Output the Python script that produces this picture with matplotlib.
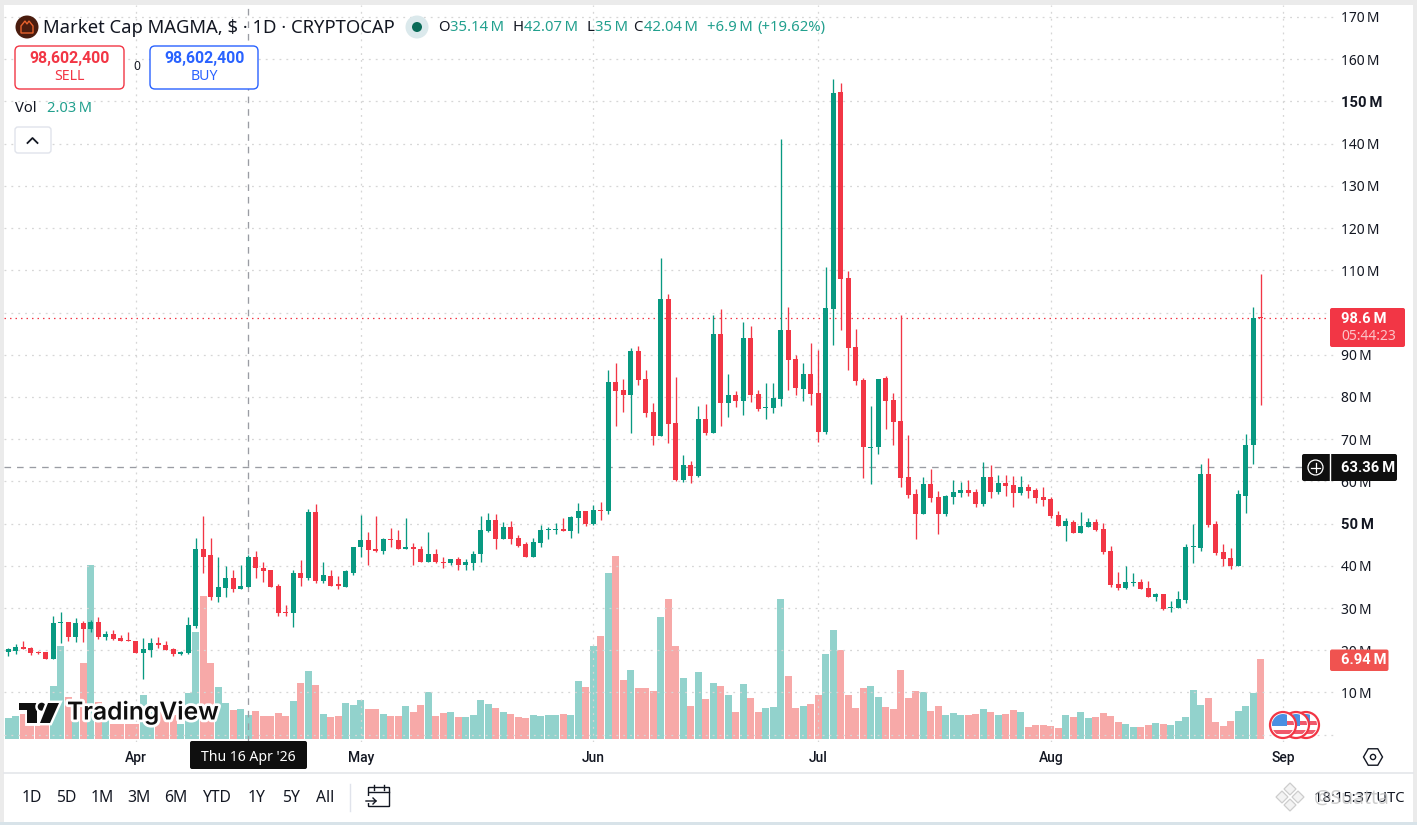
import matplotlib
matplotlib.use('Agg')
import numpy as np
import pandas as pd
import matplotlib.pyplot as plt
import matplotlib.patches as mpatches
import matplotlib.patheffects as pe
from matplotlib.ticker import FixedLocator, FuncFormatter

plt.rcParams['font.family'] = ['Noto Sans', 'DejaVu Sans']

opens = [19.5, 19.8, 20.8, 20.6, 19.6, 19.6, 17.9, 26.5, 26.7, 23.2,
         26.5, 25.1, 26.7, 23.2, 23.9, 22.9, 22.5, 22.2, 19.4, 20.1,
         21.7, 21.3, 20.3, 19.1, 19.4, 25.8, 44.1, 42.5, 32.5, 34.8,
         37.0, 34.6, 35.1, 42.2, 39.6, 38.9, 35.3, 29.1, 28.9, 38.2,
         37.2, 52.7, 36.5, 37.7, 35.6, 35.1, 38.4, 44.4, 46.0, 43.9,
         43.4, 46.3, 46.0, 44.1, 44.4, 44.1, 40.8, 42.9, 41.0, 40.6,
         41.5, 40.1, 40.6, 42.7, 48.2, 50.8, 46.3, 49.1, 46.5, 45.1,
         42.2, 45.3, 48.4, 48.4, 48.7, 48.2, 51.3, 52.9, 49.8, 53.2,
         52.9, 83.6, 81.7, 80.5, 90.9, 84.3, 76.4, 70.8, 103.2, 73.8,
         60.3, 63.9, 61.3, 74.8, 71.5, 94.9, 78.6, 80.5, 79.1, 94.0,
         80.7, 77.4, 77.4, 79.5, 95.9, 89.0, 81.9, 85.5, 80.9, 71.7,
         100.9, 152.3, 108.2, 91.9, 84.0, 67.9, 68.2, 84.5, 79.3, 74.3,
         61.0, 57.0, 52.3, 59.4, 56.3, 52.3, 56.3, 57.2, 57.9, 57.5,
         54.6, 61.0, 57.5, 59.6, 59.1, 57.2, 58.7, 57.9, 56.3, 55.8,
         52.0, 49.4, 50.4, 47.7, 49.2, 50.4, 48.7, 43.5, 35.7, 34.7,
         35.9, 36.1, 34.7, 32.6, 33.3, 30.0, 30.0, 31.9, 44.5, 44.3,
         61.8, 50.0, 43.3, 41.9, 40.0, 56.6, 68.5, 98.8]
closes = [20.2, 20.8, 20.3, 19.4, 19.4, 17.9, 26.5, 26.7, 23.2, 26.5,
          25.1, 26.7, 23.2, 23.9, 22.7, 22.2, 22.2, 19.4, 20.3, 21.7,
          21.3, 20.1, 19.1, 19.6, 26.0, 44.1, 42.2, 32.5, 35.1, 37.0,
          34.6, 35.3, 42.2, 39.4, 38.7, 35.1, 28.9, 28.9, 38.2, 37.2,
          52.7, 36.5, 37.9, 35.3, 35.3, 38.7, 44.4, 46.0, 43.7, 43.4,
          46.3, 46.0, 43.9, 44.4, 44.1, 40.8, 42.9, 40.8, 40.6, 41.5,
          40.1, 40.8, 42.9, 48.4, 50.8, 46.3, 49.1, 46.3, 44.8, 42.2,
          45.6, 48.4, 48.7, 48.7, 48.2, 51.5, 52.9, 49.8, 53.2, 52.9,
          83.6, 81.4, 80.5, 90.9, 84.0, 76.2, 70.8, 103.2, 73.6, 60.3,
          63.9, 61.3, 74.8, 71.5, 94.9, 78.6, 80.5, 79.1, 94.0, 80.5,
          77.2, 77.6, 79.8, 95.9, 88.8, 82.1, 85.5, 80.7, 71.7, 101.1,
          152.1, 108.0, 91.6, 83.8, 68.2, 68.2, 84.3, 79.1, 74.1, 60.8,
          56.8, 52.3, 59.4, 56.1, 52.3, 56.6, 57.5, 57.9, 57.2, 54.6,
          61.0, 57.5, 59.6, 58.9, 57.2, 58.7, 57.7, 56.0, 55.6, 51.8,
          49.4, 50.6, 47.7, 49.4, 50.4, 48.5, 43.2, 35.4, 34.7, 36.1,
          36.1, 34.5, 32.6, 33.3, 29.7, 30.2, 32.1, 44.4, 44.8, 61.8,
          49.7, 43.1, 41.7, 40.0, 56.9, 68.7, 98.8, 98.6]
highs = [20.6, 21.5, 22.2, 20.8, 19.8, 19.6, 28.2, 29.1, 26.7, 27.7,
         27.0, 27.2, 27.9, 24.6, 24.8, 23.7, 24.4, 22.2, 22.9, 22.9,
         23.2, 22.2, 20.6, 19.8, 27.9, 46.7, 51.7, 46.5, 42.0, 40.0,
         38.9, 40.3, 42.5, 43.4, 40.8, 38.9, 35.6, 30.8, 39.1, 41.3,
         53.4, 54.6, 40.8, 39.1, 37.7, 39.1, 44.4, 52.0, 47.9, 51.7,
         46.7, 48.9, 48.4, 51.3, 45.3, 44.6, 47.9, 44.1, 42.2, 41.7,
         42.0, 41.7, 43.4, 51.7, 52.5, 52.2, 50.3, 50.6, 47.2, 45.6,
         46.7, 49.6, 49.1, 50.1, 51.3, 51.7, 54.8, 52.9, 54.4, 55.1,
         86.4, 88.1, 84.3, 91.6, 92.1, 86.4, 78.6, 113.0, 104.4, 84.7,
         66.2, 64.8, 77.9, 78.3, 99.4, 100.9, 85.5, 81.4, 97.8, 96.8,
         81.7, 83.3, 83.3, 141.0, 101.3, 90.0, 88.1, 92.8, 91.1, 110.8,
         155.4, 154.4, 109.9, 96.1, 84.5, 77.9, 84.3, 85.0, 81.0, 99.4,
         71.0, 58.2, 61.0, 63.0, 57.7, 56.8, 60.3, 59.8, 60.3, 58.2,
         64.6, 63.9, 61.5, 61.5, 61.3, 61.3, 59.4, 58.4, 58.7, 56.3,
         53.0, 51.3, 50.8, 52.7, 51.3, 51.1, 50.1, 44.7, 38.5, 39.9,
         38.3, 36.8, 36.4, 33.5, 33.3, 31.6, 34.0, 45.1, 50.0, 64.0,
         65.6, 50.7, 45.2, 44.3, 58.0, 71.3, 101.2, 109.2]
lows = [18.7, 19.2, 20.3, 18.9, 19.1, 17.9, 17.9, 21.7, 22.2, 22.0,
        22.0, 24.4, 22.7, 22.5, 22.5, 22.2, 22.2, 19.4, 13.2, 18.4,
        20.6, 20.1, 18.7, 18.9, 19.1, 25.3, 38.4, 32.0, 31.5, 32.5,
        33.9, 34.6, 35.1, 37.0, 36.2, 35.1, 28.2, 28.2, 25.6, 35.3,
        36.7, 36.0, 36.0, 35.3, 34.6, 35.1, 37.9, 42.2, 40.1, 43.2,
        42.9, 44.4, 43.9, 43.9, 40.1, 40.8, 40.8, 40.6, 39.6, 40.1,
        39.1, 39.1, 39.1, 40.8, 47.9, 44.1, 46.3, 45.1, 44.4, 42.2,
        42.2, 44.4, 46.3, 47.5, 48.2, 46.5, 47.7, 49.4, 49.6, 50.8,
        52.2, 73.1, 76.4, 71.5, 82.8, 75.3, 68.6, 70.8, 69.1, 60.1,
        59.8, 59.6, 61.0, 71.0, 71.5, 73.1, 75.3, 77.6, 75.7, 78.8,
        76.7, 74.8, 76.2, 77.9, 81.7, 80.5, 79.1, 78.1, 69.3, 71.2,
        92.3, 95.9, 86.4, 82.9, 60.8, 59.4, 66.5, 72.4, 68.6, 58.7,
        56.1, 46.4, 52.3, 55.1, 47.6, 51.8, 54.6, 56.3, 56.5, 53.9,
        54.2, 56.0, 57.0, 56.5, 53.9, 56.8, 56.0, 54.9, 54.2, 51.3,
        49.4, 45.8, 47.7, 47.7, 49.2, 48.2, 42.8, 34.9, 34.2, 34.5,
        35.2, 34.5, 32.6, 31.6, 29.5, 29.0, 30.0, 31.1, 40.7, 43.6,
        49.3, 42.6, 40.0, 39.3, 40.0, 52.6, 64.0, 78.2]
volumes = [1.82, 1.99, 2.17, 1.30, 1.30, 1.30, 4.60, 8.06, 3.64, 3.38,
           6.59, 15.09, 3.20, 2.00, 1.30, 1.30, 1.30, 1.30, 3.80, 3.00,
           2.50, 2.00, 2.10, 1.30, 4.00, 9.30, 12.40, 6.59, 4.50, 3.10,
           2.50, 2.60, 2.08, 2.43, 2.00, 2.00, 2.25, 2.00, 3.30, 4.86,
           5.90, 4.68, 2.17, 1.90, 2.00, 3.12, 2.95, 3.38, 2.60, 2.60,
           2.17, 2.00, 2.00, 2.86, 2.34, 2.95, 4.08, 2.00, 2.25, 2.34,
           1.90, 1.90, 2.08, 3.38, 3.03, 2.69, 2.34, 2.17, 1.90, 1.82,
           2.08, 2.00, 2.08, 2.08, 2.17, 2.08, 5.03, 4.50, 8.06, 8.93,
           14.39, 15.87, 5.12, 5.98, 4.42, 4.42, 4.16, 10.58, 12.14, 8.06,
           5.29, 2.86, 5.81, 3.47, 4.86, 4.60, 3.82, 2.34, 4.77, 3.55,
           2.34, 2.69, 2.77, 12.14, 5.46, 2.69, 2.86, 3.03, 3.82, 7.37,
           9.45, 7.72, 3.82, 2.69, 4.42, 4.60, 3.64, 2.77, 2.58, 5.97,
           3.56, 4.19, 4.10, 2.41, 2.85, 2.05, 2.23, 2.05, 2.05, 2.14,
           2.58, 2.32, 2.05, 2.14, 2.49, 2.32, 1.07, 1.25, 1.25, 1.16,
           0.98, 2.05, 1.87, 2.32, 1.78, 1.87, 2.23, 1.96, 1.51, 1.34,
           1.07, 1.07, 1.25, 1.43, 1.34, 1.25, 1.60, 1.87, 4.28, 2.94,
           3.56, 1.51, 1.16, 1.60, 2.41, 2.85, 4.01, 6.94]

dates = pd.date_range('2026-03-15', periods=len(opens))
month_labels = ['Apr', 'May', 'Jun', 'Jul', 'Aug', 'Sep']
month_dates = pd.to_datetime(['2026-04-01', '2026-05-01', '2026-06-01',
                              '2026-07-01', '2026-08-01', '2026-09-01'])
price_ticks = list(range(10, 180, 10))
bold_ticks = [50, 150]
range_buttons = ['1D', '5D', '1M', '3M', '6M', 'YTD', '1Y', '5Y', 'All']
button_x = [32, 66, 102, 139, 176, 217, 257, 291, 325]
last_price = 98.6
cross_price = 63.36
cross_date = pd.Timestamp('2026-04-16')

GREEN = '#089981'
RED = '#f23645'
VOL_GREEN = '#92d2cc'
VOL_RED = '#f7a9a8'
TEAL = '#22a08e'
INK = '#131722'
BOLD = ['Roboto', 'DejaVu Sans']
W, H = 1417, 825

fig = plt.figure(figsize=(W / 100, H / 100), dpi=100)
fig.patch.set_facecolor('#ebebeb')


def day_index(d):
    return (d - dates[0]).days


def full_axes(z):
    a = fig.add_axes([0, 0, 1, 1], zorder=z)
    a.set_xlim(0, W)
    a.set_ylim(H, 0)
    a.axis('off')
    return a


# --- panel background ---
bg = full_axes(0)
bg.add_patch(mpatches.Rectangle((4, 5), 1409, 817, fc='white', ec='none'))
bg.add_patch(mpatches.Rectangle((0, 822), W, 3, fc='#d8e3e9', ec='none'))
bg.plot([4, 1413], [773, 773], color='#e4e6ea', lw=1.2)

# --- volume + price axes share the plot area ---
rect = [4 / W, (H - 742) / H, 1334 / W, 737 / H]
vol = fig.add_axes(rect, zorder=1)
ax = fig.add_axes(rect, zorder=2)
for a in (vol, ax):
    a.patch.set_visible(False)
    for s in a.spines.values():
        s.set_visible(False)
    a.set_xlim(-0.573, 177.3)

x = np.arange(len(opens))
o, c, h, l, v = map(np.array, (opens, closes, highs, lows, volumes))
up = c >= o

# volume
vol.set_ylim(-3 / 11.53, 734 / 11.53)
vol.set_xticks([])
vol.set_yticks([])
dot_style = dict(color='#d6d6d6', lw=0.9, ls=(0, (1.5, 4)), zorder=1)
for t in [0] + price_ticks:
    ax.axhline(t, **dot_style)
for d in month_dates:
    ax.axvline(day_index(d), **dot_style)
vol.bar(x, v, width=0.88, color=[VOL_GREEN if u else VOL_RED for u in up],
        lw=0, zorder=2)

# price, dojis still get a visible one pixel body
ax.set_ylim((734.7 - 742) / 4.222, (734.7 - 5) / 4.222)
ax.vlines(x, l, h, colors=[GREEN if u else RED for u in up], lw=0.95, zorder=4)
ax.bar(x, np.maximum(np.abs(c - o), 0.28), bottom=np.minimum(o, c), width=0.68,
       color=[GREEN if u else RED for u in up], lw=0, zorder=5)

# crosshair and last price line
cross_style = dict(color='#9a9ca3', lw=0.95, ls=(0, (5, 4.5)), zorder=3)
ax.axhline(cross_price, **cross_style)
ax.axvline(day_index(cross_date), **cross_style)
ax.axhline(last_price, color=RED, lw=0.9, ls=(0, (1.2, 3.2)), zorder=3)

ax.yaxis.tick_right()
ax.yaxis.set_major_locator(FixedLocator(price_ticks))
ax.yaxis.set_major_formatter(FuncFormatter(lambda t, _: f'{t:.0f}\u2009M'))
ax.tick_params(axis='y', length=0, pad=2.2, labelsize=10, labelcolor=INK)
for t, tick in zip(price_ticks, ax.yaxis.get_major_ticks()):
    if t in bold_ticks:
        tick.label2.set_family(BOLD)
        tick.label2.set_fontweight('bold')
        tick.label2.set_fontsize(10.6)

ax.set_xticks([day_index(d) for d in month_dates], month_labels)
ax.tick_params(axis='x', length=0, pad=6.8, labelsize=10, labelcolor=INK)
for lab in ax.get_xticklabels():
    lab.set_fontweight('medium')
    lab.set_family(BOLD)

# --- chart furniture drawn in pixel coordinates ---
ui = full_axes(3)


def label(px, py, s, **kw):
    kw.setdefault('va', 'center')
    kw.setdefault('color', INK)
    return ui.text(px, py, s, **kw)


def box(x0, y0, x1, y1, fc='white', ec='none', r=2, lw=1.0):
    p = mpatches.FancyBboxPatch((x0 + r, y0 + r), x1 - x0 - 2 * r, y1 - y0 - 2 * r,
                                boxstyle=f'round,pad={r}', fc=fc, ec=ec, lw=lw)
    ui.add_patch(p)
    return p


# header
ui.add_patch(mpatches.Circle((27, 27), 11.5, fc='#4a1c0e', ec='none'))
ui.add_patch(mpatches.Polygon([(21, 33), (21, 26), (25, 21), (27, 24), (29, 21), (33, 26), (33, 33)],
                              closed=True, fc='none', ec='#e8622c', lw=1))
label(43, 28, 'Market Cap MAGMA, $ \u00b7 1D \u00b7 CRYPTOCAP', fontsize=13.3)
ui.add_patch(mpatches.Circle((417, 27), 11.5, fc='#dbe9ec', ec='none'))
ui.add_patch(mpatches.Circle((417, 27), 5, fc='#0a6b58', ec='none'))
for px, s, col in [(438, 'O', INK), (450, '35.14\u2009M', TEAL), (512, 'H', INK),
                   (524, '42.07\u2009M', TEAL), (586, 'L', INK), (595, '35\u2009M', TEAL),
                   (633, 'C', INK), (644, '42.04\u2009M', TEAL),
                   (707, '+6.9\u2009M', TEAL), (757, '(+19.62%)', TEAL)]:
    label(px, 27.5, s, fontsize=10.7, color=col)

# sell / buy
box(15, 46, 124, 89, ec=RED, r=5, lw=1)
label(69.5, 59, '98,602,400', fontsize=11.4, color=RED, ha='center', fontweight='bold', family=BOLD)
label(69.5, 76, 'SELL', fontsize=10.2, color=RED, ha='center')
label(137, 67, '0', fontsize=8.6, ha='center')
box(150, 46, 258, 89, ec='#2962ff', r=5, lw=1)
label(204.5, 59, '98,602,400', fontsize=11.4, color='#2962ff', ha='center', fontweight='bold', family=BOLD)
label(204.5, 76, 'BUY', fontsize=10.2, color='#2962ff', ha='center')

label(15, 108.5, 'Vol', fontsize=10.6)
label(47, 108.5, '2.03\u2009M', fontsize=10.6, color=TEAL)
box(15, 127, 51, 153, ec='#e0e3eb', r=3, lw=1)
ui.plot([27.5, 32.5, 37.5], [143, 138, 143], color=INK, lw=1.3)

# TradingView mark
halo = [pe.withStroke(linewidth=4, foreground='white')]
logo_shapes = [
    mpatches.Polygon([(19, 703), (37, 703), (37, 723), (27, 723), (27, 710), (19, 710)], closed=True),
    mpatches.Circle((41.7, 706.7), 4),
    mpatches.Polygon([(48, 703), (59, 703), (50, 723), (40, 723)], closed=True),
]
for p in logo_shapes:
    p.set(fc='#0f0f0f', ec='none', path_effects=[pe.withStroke(linewidth=3.5, foreground='white')])
    ui.add_patch(p)
label(67, 712, 'TradingView', fontsize=17.7, color='#0f0f0f', fontweight='semibold',
      family=['Inter', 'DejaVu Sans'], path_effects=halo)

# crosshair date
box(190, 741, 307, 769, fc='#0f0f0f', r=2)
label(248.5, 757.5, "Thu 16 Apr '26", fontsize=10.1, color='white', ha='center')

# price scale labels
box(1330, 308, 1405, 347, fc=RED, r=2)
label(1341, 319, '98.6\u2009M', fontsize=10.6, color='white', fontweight='bold', family=BOLD)
label(1341, 337, '05:44:23', fontsize=10, color='#fbc4c9')
box(1330, 649.5, 1388.5, 671, fc='#f05350', r=2)
label(1341, 660, '6.94\u2009M', fontsize=10.6, color='white', fontweight='bold', family=BOLD)
box(1302, 454, 1397, 481, fc='#0f0f0f', r=2)
ui.plot([1329.5, 1329.5], [454, 481], color='white', lw=1)
ui.add_patch(mpatches.Circle((1315.5, 467.5), 7.5, fc='none', ec='white', lw=0.9))
ui.plot([1311, 1320], [467.5, 467.5], color='white', lw=0.9)
ui.plot([1315.5, 1315.5], [463, 472], color='white', lw=0.9)
label(1341, 467.5, '63.36\u2009M', fontsize=10.6, color='white', fontweight='bold', family=BOLD)

# settings hexagon
ui.add_patch(mpatches.RegularPolygon((1373, 757), 6, radius=9.5, orientation=np.pi / 6,
                                     fc='white', ec=INK, lw=1))
ui.add_patch(mpatches.Circle((1373, 757), 2.6, fc='white', ec=INK, lw=1))

# event flags
for fx in [1306, 1296, 1283]:
    ring = mpatches.Circle((fx, 725), 13, fc='white', ec=RED, lw=1.6)
    ui.add_patch(ring)
    clip = mpatches.Circle((fx, 725), 11, transform=ui.transData)
    for sy in [721, 729.5]:
        st = ui.add_patch(mpatches.Rectangle((fx - 13, sy), 26, 4, fc='#f0596b', ec='none'))
        st.set_clip_path(clip)
    can = ui.add_patch(mpatches.Rectangle((fx - 11, 714), 14.5, 12, fc='#4a90e2', ec='none'))
    can.set_clip_path(clip)

# range buttons
for px, s in zip(button_x, range_buttons):
    label(px, 798, s, fontsize=11.3, ha='center')
ui.plot([349.5, 349.5], [784, 811], color='#e0e3eb', lw=1)
ui.add_patch(mpatches.FancyBboxPatch((369, 788), 20, 18, boxstyle='round,pad=0.5',
                                     fc='white', ec=INK, lw=1))
ui.add_patch(mpatches.Rectangle((364, 796), 12, 7, fc='white', ec='none'))
ui.plot([369, 389], [792, 792], color=INK, lw=1)
ui.plot([374, 374], [785, 790], color=INK, lw=1)
ui.plot([384, 384], [785, 790], color=INK, lw=1)
ui.plot([366, 376, 373], [801, 801, 798], color=INK, lw=1)
ui.plot([376, 373], [801, 804], color=INK, lw=1)

# clock plus the screenshot's watermark on top of it
label(1405, 798, '18:15:37 UTC', fontsize=10.6, ha='right')
for dx, dy in [(0, -8), (-8, 0), (8, 0), (0, 8)]:
    ui.add_patch(mpatches.RegularPolygon((1290 + dx, 797 + dy), 4, radius=6,
                                         fc='#f2f2f2', ec='#c8c8c8', lw=0.9, alpha=0.9))
label(1314, 799, '@Suatta', fontsize=14, color='#bdbdbd', alpha=0.75)

fig.savefig('out.png', dpi=100, facecolor=fig.get_facecolor())
plt.close(fig)
